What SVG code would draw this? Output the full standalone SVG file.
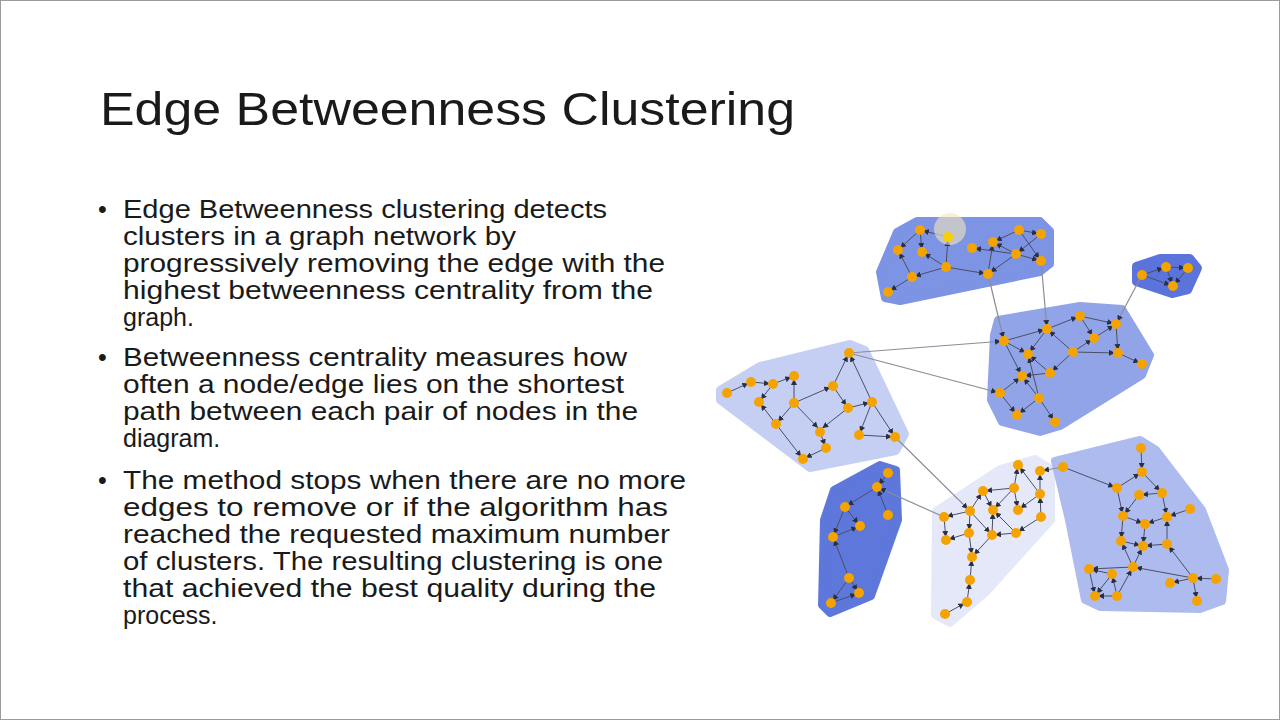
<svg xmlns="http://www.w3.org/2000/svg" width="1280" height="720" viewBox="0 0 1280 720">
<style>
.t{font-family:"Liberation Sans","Open Sans",sans-serif;fill:#1a1a1a}
.b{font-size:25px}
.e{stroke:#4a4f66;stroke-width:1;marker-end:url(#a)}
.x{stroke:#8a8d99;stroke-width:1.2;marker-end:url(#a)}
.n{fill:#f5a300}
</style>
<defs><marker id="a" markerWidth="6" markerHeight="6" refX="9" refY="3" orient="auto" markerUnits="userSpaceOnUse"><path d="M0,0L6,3L0,6z" fill="#2a2f44"/></marker></defs>
<rect x="0.5" y="0.5" width="1279" height="719" fill="#fff" stroke="#9a9a9a"/>
<text class="t" x="100" y="125" font-size="46" textLength="695" lengthAdjust="spacingAndGlyphs">Edge Betweenness Clustering</text>
<g class="t b">
<text x="98" y="218">•</text><text x="98" y="366">•</text><text x="98" y="489">•</text>
<text x="123" y="218" textLength="484" lengthAdjust="spacingAndGlyphs">Edge Betweenness clustering detects</text>
<text x="123" y="245" textLength="393" lengthAdjust="spacingAndGlyphs">clusters in a graph network by</text>
<text x="123" y="272" textLength="542" lengthAdjust="spacingAndGlyphs">progressively removing the edge with the</text>
<text x="123" y="299" textLength="530" lengthAdjust="spacingAndGlyphs">highest betweenness centrality from the</text>
<text x="123" y="326">graph.</text>
<text x="123" y="366" textLength="504" lengthAdjust="spacingAndGlyphs">Betweenness centrality measures how</text>
<text x="123" y="393" textLength="501" lengthAdjust="spacingAndGlyphs">often a node/edge lies on the shortest</text>
<text x="123" y="420" textLength="515" lengthAdjust="spacingAndGlyphs">path between each pair of nodes in the</text>
<text x="123" y="447">diagram.</text>
<text x="123" y="489" textLength="563" lengthAdjust="spacingAndGlyphs">The method stops when there are no more</text>
<text x="123" y="516" textLength="545" lengthAdjust="spacingAndGlyphs">edges to remove or if the algorithm has</text>
<text x="123" y="543" textLength="547" lengthAdjust="spacingAndGlyphs">reached the requested maximum number</text>
<text x="123" y="570" textLength="540" lengthAdjust="spacingAndGlyphs">of clusters. The resulting clustering is one</text>
<text x="123" y="597" textLength="533" lengthAdjust="spacingAndGlyphs">that achieved the best quality during the</text>
<text x="123" y="624">process.</text>
</g>
<g id="hulls" stroke-linejoin="round" stroke-width="8">
<path d="M885,298 L880,272 L897,232 L917,221 L1040,221 L1050,231 L1050,264 L1040,272 L900,301Z" fill="#7d93e3" stroke="#7d93e3"/>
<path d="M1136,266 L1160,258 L1190,258 L1198,268 L1188,290 L1172,294 L1136,282Z" fill="#5a74dc" stroke="#5a74dc"/>
<path d="M998,320 L1080,306 L1122,309 L1150,355 L1142,375 L1060,426 L1040,432 L1002,422 L991,400 L994,335Z" fill="#91a4e8" stroke="#91a4e8"/>
<path d="M720,390 L760,366 L850,344 L865,350 L905,434 L896,451 L810,468 L720,400Z" fill="#c5cff3" stroke="#c5cff3"/>
<path d="M834,490 L880,465 L896,470 L898,520 L871,596 L830,613 L822,605 L824,520Z" fill="#5d77db" stroke="#5d77db"/>
<path d="M936,511 L1000,469 L1035,459 L1051,469 L1051,520 L986,592 L950,623 L935,615Z" fill="#e4e8f8" stroke="#e4e8f8"/>
<path d="M1055,461 L1140,440 L1156,450 L1202,510 L1225,570 L1222,601 L1200,609 L1100,607 L1085,600 L1069,520Z" fill="#adbbef" stroke="#adbbef"/>
</g>
<g id="connectors" fill="none">
<line class="x" x1="849" y1="353" x2="1004" y2="341"/>
<line class="x" x1="849" y1="353" x2="1000" y2="393"/>
<line class="x" x1="988" y1="274" x2="1004" y2="341"/>
<line class="x" x1="1041" y1="261" x2="1047" y2="329"/>
<line class="x" x1="1142" y1="275" x2="1116" y2="324"/>
<line class="x" x1="895" y1="437" x2="970" y2="511"/>
<line class="x" x1="944" y1="517" x2="877" y2="487"/>
<line class="x" x1="1063" y1="467" x2="1040" y2="471"/>
<line class="e" x1="946" y1="267" x2="912" y2="277"/><line class="e" x1="912" y1="277" x2="888" y2="292"/>
<line class="e" x1="912" y1="277" x2="898" y2="250"/><line class="e" x1="920" y1="230" x2="898" y2="250"/>
<line class="e" x1="920" y1="230" x2="922" y2="252"/><line class="e" x1="946" y1="267" x2="922" y2="252"/>
<line class="e" x1="946" y1="267" x2="948" y2="237"/><line class="e" x1="946" y1="267" x2="988" y2="274"/>
<line class="e" x1="948" y1="237" x2="920" y2="230"/><line class="e" x1="988" y1="274" x2="993" y2="242"/>
<line class="e" x1="1016" y1="254" x2="972" y2="248"/><line class="e" x1="1016" y1="254" x2="993" y2="242"/>
<line class="e" x1="1019" y1="230" x2="993" y2="242"/><line class="e" x1="1019" y1="230" x2="1041" y2="234"/>
<line class="e" x1="1041" y1="234" x2="1016" y2="254"/><line class="e" x1="1016" y1="254" x2="1041" y2="261"/>
<line class="e" x1="1019" y1="230" x2="1041" y2="261"/><line class="e" x1="1016" y1="254" x2="988" y2="274"/>
<line class="e" x1="1142" y1="275" x2="1166" y2="267"/><line class="e" x1="1166" y1="267" x2="1188" y2="268"/>
<line class="e" x1="1142" y1="275" x2="1173" y2="286"/><line class="e" x1="1188" y1="268" x2="1173" y2="286"/><line class="e" x1="1166" y1="267" x2="1173" y2="286"/>
<line class="e" x1="1004" y1="341" x2="1047" y2="329"/><line class="e" x1="1047" y1="329" x2="1080" y2="316"/>
<line class="e" x1="1080" y1="316" x2="1116" y2="324"/><line class="e" x1="1080" y1="316" x2="1094" y2="338"/>
<line class="e" x1="1094" y1="338" x2="1116" y2="324"/><line class="e" x1="1073" y1="352" x2="1094" y2="338"/>
<line class="e" x1="1073" y1="352" x2="1047" y2="329"/><line class="e" x1="1073" y1="352" x2="1118" y2="353"/>
<line class="e" x1="1116" y1="324" x2="1118" y2="353"/><line class="e" x1="1118" y1="353" x2="1142" y2="364"/>
<line class="e" x1="1047" y1="329" x2="1028" y2="354"/><line class="e" x1="1004" y1="341" x2="1028" y2="354"/>
<line class="e" x1="1073" y1="352" x2="1050" y2="373"/><line class="e" x1="1050" y1="373" x2="1022" y2="376"/>
<line class="e" x1="1039" y1="398" x2="1028" y2="354"/><line class="e" x1="1039" y1="398" x2="1022" y2="376"/>
<line class="e" x1="1050" y1="373" x2="1028" y2="354"/><line class="e" x1="1004" y1="341" x2="1022" y2="376"/>
<line class="e" x1="1000" y1="393" x2="1022" y2="376"/><line class="e" x1="1000" y1="393" x2="1017" y2="415"/>
<line class="e" x1="1039" y1="398" x2="1017" y2="415"/><line class="e" x1="1039" y1="398" x2="1055" y2="422"/>
<line class="e" x1="727" y1="393" x2="751" y2="382"/><line class="e" x1="751" y1="382" x2="773" y2="384"/>
<line class="e" x1="773" y1="384" x2="794" y2="376"/><line class="e" x1="773" y1="384" x2="759" y2="402"/>
<line class="e" x1="794" y1="403" x2="794" y2="376"/><line class="e" x1="794" y1="403" x2="833" y2="386"/>
<line class="e" x1="794" y1="403" x2="776" y2="424"/><line class="e" x1="776" y1="424" x2="759" y2="402"/>
<line class="e" x1="794" y1="403" x2="820" y2="430"/><line class="e" x1="848" y1="408" x2="820" y2="430"/>
<line class="e" x1="833" y1="386" x2="849" y2="353"/><line class="e" x1="833" y1="386" x2="848" y2="408"/>
<line class="e" x1="848" y1="408" x2="872" y2="402"/><line class="e" x1="872" y1="402" x2="849" y2="353"/>
<line class="e" x1="872" y1="402" x2="859" y2="435"/><line class="e" x1="872" y1="402" x2="895" y2="437"/>
<line class="e" x1="859" y1="435" x2="895" y2="437"/><line class="e" x1="776" y1="424" x2="803" y2="459"/>
<line class="e" x1="820" y1="432" x2="826" y2="448"/><line class="e" x1="826" y1="448" x2="803" y2="459"/>
<line class="e" x1="888" y1="515" x2="877" y2="487"/><line class="e" x1="877" y1="487" x2="845" y2="507"/>
<line class="e" x1="888" y1="473" x2="877" y2="487"/><line class="e" x1="845" y1="507" x2="860" y2="526"/>
<line class="e" x1="845" y1="507" x2="833" y2="537"/><line class="e" x1="833" y1="537" x2="860" y2="526"/>
<line class="e" x1="849" y1="578" x2="833" y2="537"/><line class="e" x1="849" y1="578" x2="859" y2="593"/>
<line class="e" x1="849" y1="578" x2="831" y2="603"/><line class="e" x1="831" y1="603" x2="859" y2="593"/>
<line class="e" x1="970" y1="511" x2="983" y2="491"/><line class="e" x1="970" y1="511" x2="944" y2="517"/>
<line class="e" x1="944" y1="517" x2="946" y2="540"/><line class="e" x1="969" y1="533" x2="946" y2="540"/>
<line class="e" x1="970" y1="511" x2="969" y2="533"/><line class="e" x1="970" y1="511" x2="992" y2="535"/>
<line class="e" x1="1014" y1="488" x2="983" y2="491"/><line class="e" x1="1014" y1="488" x2="1018" y2="465"/>
<line class="e" x1="1014" y1="488" x2="1018" y2="510"/><line class="e" x1="1014" y1="488" x2="993" y2="510"/>
<line class="e" x1="983" y1="491" x2="993" y2="510"/><line class="e" x1="1040" y1="494" x2="1040" y2="471"/>
<line class="e" x1="1040" y1="494" x2="1018" y2="510"/><line class="e" x1="1040" y1="494" x2="1018" y2="465"/>
<line class="e" x1="1041" y1="517" x2="1016" y2="533"/><line class="e" x1="1016" y1="533" x2="993" y2="510"/>
<line class="e" x1="1016" y1="533" x2="992" y2="535"/><line class="e" x1="992" y1="535" x2="993" y2="510"/>
<line class="e" x1="992" y1="535" x2="972" y2="557"/><line class="e" x1="969" y1="533" x2="972" y2="557"/>
<line class="e" x1="970" y1="580" x2="972" y2="557"/><line class="e" x1="967" y1="602" x2="970" y2="580"/>
<line class="e" x1="945" y1="614" x2="967" y2="602"/><line class="e" x1="1041" y1="517" x2="1040" y2="494"/>
<line class="e" x1="1063" y1="467" x2="1117" y2="488"/><line class="e" x1="1141" y1="448" x2="1142" y2="472"/>
<line class="e" x1="1117" y1="488" x2="1142" y2="472"/><line class="e" x1="1142" y1="472" x2="1162" y2="493"/>
<line class="e" x1="1162" y1="493" x2="1139" y2="495"/><line class="e" x1="1117" y1="488" x2="1123" y2="516"/>
<line class="e" x1="1139" y1="495" x2="1123" y2="516"/><line class="e" x1="1190" y1="509" x2="1167" y2="517"/>
<line class="e" x1="1162" y1="493" x2="1167" y2="517"/><line class="e" x1="1167" y1="517" x2="1145" y2="524"/>
<line class="e" x1="1123" y1="516" x2="1145" y2="524"/><line class="e" x1="1123" y1="516" x2="1121" y2="541"/>
<line class="e" x1="1121" y1="541" x2="1143" y2="546"/><line class="e" x1="1145" y1="524" x2="1143" y2="546"/>
<line class="e" x1="1167" y1="544" x2="1143" y2="546"/><line class="e" x1="1167" y1="544" x2="1167" y2="517"/>
<line class="e" x1="1133" y1="567" x2="1143" y2="546"/><line class="e" x1="1133" y1="567" x2="1121" y2="541"/>
<line class="e" x1="1133" y1="567" x2="1089" y2="569"/><line class="e" x1="1112" y1="574" x2="1089" y2="569"/>
<line class="e" x1="1089" y1="569" x2="1095" y2="596"/><line class="e" x1="1112" y1="574" x2="1095" y2="596"/>
<line class="e" x1="1117" y1="596" x2="1095" y2="596"/><line class="e" x1="1117" y1="596" x2="1112" y2="574"/>
<line class="e" x1="1117" y1="596" x2="1133" y2="567"/><line class="e" x1="1193" y1="578" x2="1170" y2="583"/>
<line class="e" x1="1193" y1="578" x2="1133" y2="567"/><line class="e" x1="1216" y1="579" x2="1193" y2="578"/>
<line class="e" x1="1193" y1="578" x2="1197" y2="601"/><line class="e" x1="1193" y1="578" x2="1167" y2="544"/>
</g>
<g id="nodes" class="n">
<circle cx="950" cy="229" r="16" fill="#f1e4bd" opacity="0.6"/>
<circle cx="920" cy="230" r="5"/><circle cx="948" cy="237" r="5" fill="#f7d000"/><circle cx="898" cy="250" r="5"/><circle cx="922" cy="252" r="5"/><circle cx="972" cy="248" r="5"/><circle cx="993" cy="242" r="5"/><circle cx="1019" cy="230" r="5"/><circle cx="1041" cy="234" r="5"/><circle cx="1016" cy="254" r="5"/><circle cx="1041" cy="261" r="5"/><circle cx="946" cy="267" r="5"/><circle cx="912" cy="277" r="5"/><circle cx="988" cy="274" r="5"/><circle cx="888" cy="292" r="5"/>
<circle cx="1142" cy="275" r="5"/><circle cx="1166" cy="267" r="5"/><circle cx="1188" cy="268" r="5"/><circle cx="1173" cy="286" r="5"/>
<circle cx="1080" cy="316" r="5"/><circle cx="1116" cy="324" r="5"/><circle cx="1047" cy="329" r="5"/><circle cx="1004" cy="341" r="5"/><circle cx="1094" cy="338" r="5"/><circle cx="1028" cy="354" r="5"/><circle cx="1073" cy="352" r="5"/><circle cx="1118" cy="353" r="5"/><circle cx="1142" cy="364" r="5"/><circle cx="1050" cy="373" r="5"/><circle cx="1022" cy="376" r="5"/><circle cx="1000" cy="393" r="5"/><circle cx="1039" cy="398" r="5"/><circle cx="1017" cy="415" r="5"/><circle cx="1055" cy="422" r="5"/>
<circle cx="849" cy="353" r="5"/><circle cx="727" cy="393" r="5"/><circle cx="751" cy="382" r="5"/><circle cx="773" cy="384" r="5"/><circle cx="794" cy="376" r="5"/><circle cx="759" cy="402" r="5"/><circle cx="794" cy="403" r="5"/><circle cx="833" cy="386" r="5"/><circle cx="848" cy="408" r="5"/><circle cx="872" cy="402" r="5"/><circle cx="776" cy="424" r="5"/><circle cx="820" cy="432" r="5"/><circle cx="859" cy="435" r="5"/><circle cx="895" cy="437" r="5"/><circle cx="826" cy="448" r="5"/><circle cx="803" cy="459" r="5"/>
<circle cx="888" cy="473" r="5"/><circle cx="877" cy="487" r="5"/><circle cx="845" cy="507" r="5"/><circle cx="888" cy="515" r="5"/><circle cx="860" cy="526" r="5"/><circle cx="833" cy="537" r="5"/><circle cx="849" cy="578" r="5"/><circle cx="859" cy="593" r="5"/><circle cx="831" cy="603" r="5"/>
<circle cx="1018" cy="465" r="5"/><circle cx="1040" cy="471" r="5"/><circle cx="983" cy="491" r="5"/><circle cx="1014" cy="488" r="5"/><circle cx="1040" cy="494" r="5"/><circle cx="970" cy="511" r="5"/><circle cx="993" cy="510" r="5"/><circle cx="1018" cy="510" r="5"/><circle cx="944" cy="517" r="5"/><circle cx="1041" cy="517" r="5"/><circle cx="946" cy="540" r="5"/><circle cx="969" cy="533" r="5"/><circle cx="992" cy="535" r="5"/><circle cx="1016" cy="533" r="5"/><circle cx="972" cy="557" r="5"/><circle cx="970" cy="580" r="5"/><circle cx="967" cy="602" r="5"/><circle cx="945" cy="614" r="5"/>
<circle cx="1063" cy="467" r="5"/><circle cx="1141" cy="448" r="5"/><circle cx="1142" cy="472" r="5"/><circle cx="1117" cy="488" r="5"/><circle cx="1139" cy="495" r="5"/><circle cx="1162" cy="493" r="5"/><circle cx="1190" cy="509" r="5"/><circle cx="1123" cy="516" r="5"/><circle cx="1167" cy="517" r="5"/><circle cx="1145" cy="524" r="5"/><circle cx="1121" cy="541" r="5"/><circle cx="1143" cy="546" r="5"/><circle cx="1167" cy="544" r="5"/><circle cx="1089" cy="569" r="5"/><circle cx="1112" cy="574" r="5"/><circle cx="1133" cy="567" r="5"/><circle cx="1170" cy="583" r="5"/><circle cx="1193" cy="578" r="5"/><circle cx="1216" cy="579" r="5"/><circle cx="1095" cy="596" r="5"/><circle cx="1117" cy="596" r="5"/><circle cx="1197" cy="601" r="5"/>
</g>
</svg>
